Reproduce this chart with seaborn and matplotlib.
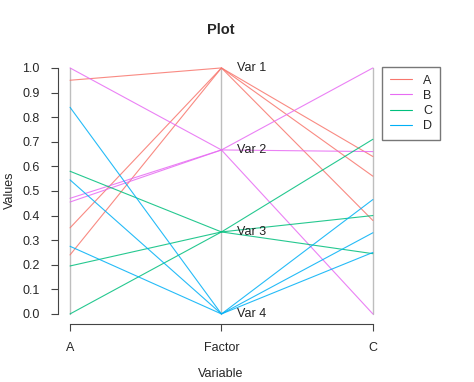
import numpy as np
import pandas as pd
import matplotlib
matplotlib.use("Agg")
import matplotlib.pyplot as plt
from matplotlib.lines import Line2D
import seaborn as sns

# Data
variables = ["A", "Factor", "C"]
groups = ["A", "B", "C", "D"]
factor_values = [1.0, 2 / 3, 1 / 3, 0.0]
factor_labels = ["Var 1", "Var 2", "Var 3", "Var 4"]

line_group = ["A", "A", "A", "B", "B", "B", "C", "C", "C", "D", "D", "D"]
val_a = [0.95, 0.35, 0.24, 1.00, 0.47, 0.455, 0.58, 0.195, 0.0, 0.84, 0.545, 0.275]
val_c = [0.64, 0.56, 0.38, 1.00, 0.66, 0.0, 0.71, 0.40, 0.245, 0.465, 0.33, 0.25]

colors = {"A": "#F8766D", "B": "#E76BF3", "C": "#00BF7D", "D": "#00B0F6"}

# long format for seaborn
rows = []
for i, g in enumerate(line_group):
    fv = factor_values[groups.index(g)]
    for pos, v in enumerate([val_a[i], fv, val_c[i]]):
        rows.append({"id": i, "Group": g, "pos": pos, "Value": v})
df = pd.DataFrame(rows)

sns.set_style("white")
plt.rcParams["font.family"] = ["Liberation Sans", "DejaVu Sans"]

fig = plt.figure(figsize=(4.74, 3.82), dpi=100)
ax = fig.add_axes([0.1222, 0.1524, 0.690, 0.6955])

# vertical axes of the parallel plot
for p in range(len(variables)):
    ax.plot([p, p], [0, 1], color="#BEBEBE", lw=1.0, zorder=1)

sns.lineplot(data=df, x="pos", y="Value", hue="Group", units="id",
             estimator=None, palette=colors, lw=0.8, alpha=0.85,
             legend=False, ax=ax, zorder=2)

for fv, lab in zip(factor_values, factor_labels):
    ax.text(1.1, fv, lab, fontsize=9, va="center", ha="left", color="#222222")

ax.set_xlim(-0.08, 2.08)
ax.set_ylim(-0.04, 1.04)
ax.set_xticks(range(len(variables)))
ax.set_xticklabels(variables)
ax.set_yticks(np.arange(0, 1.01, 0.1))
ax.set_yticklabels([f"{t:.1f}" for t in np.arange(0, 1.01, 0.1)])
ax.tick_params(axis="both", direction="out", length=5, width=0.8,
               color="#444444", labelsize=9, pad=8, left=True, bottom=True)

for s in ["top", "right"]:
    ax.spines[s].set_visible(False)
for s in ["left", "bottom"]:
    ax.spines[s].set_color("#444444")
    ax.spines[s].set_linewidth(0.8)
ax.spines["left"].set_bounds(0, 1)
ax.spines["bottom"].set_bounds(0, 2)

ax.set_xlabel("")
ax.set_ylabel("")
fig.text(221 / 474, 1 - 30 / 382, "Plot", fontsize=10.5, fontweight="bold",
         ha="center", va="center")
fig.text(221 / 474, 1 - 374 / 382, "Variable", fontsize=9, ha="center", va="center")
fig.text(10 / 474, 1 - 190 / 382, "Values", fontsize=9, ha="center", va="center",
         rotation=90)

handles = [Line2D([0], [0], color=colors[g], lw=0.8) for g in groups]
leg = ax.legend(handles, groups, loc="upper left", bbox_to_anchor=(0.991, 0.966),
                borderaxespad=0, fancybox=False, frameon=True, fontsize=9,
                handlelength=1.8, handletextpad=0.9, labelspacing=0.25,
                borderpad=0.6)
leg.get_frame().set_edgecolor("#555555")
leg.get_frame().set_linewidth(1.0)

fig.savefig("out.png", dpi=100)
